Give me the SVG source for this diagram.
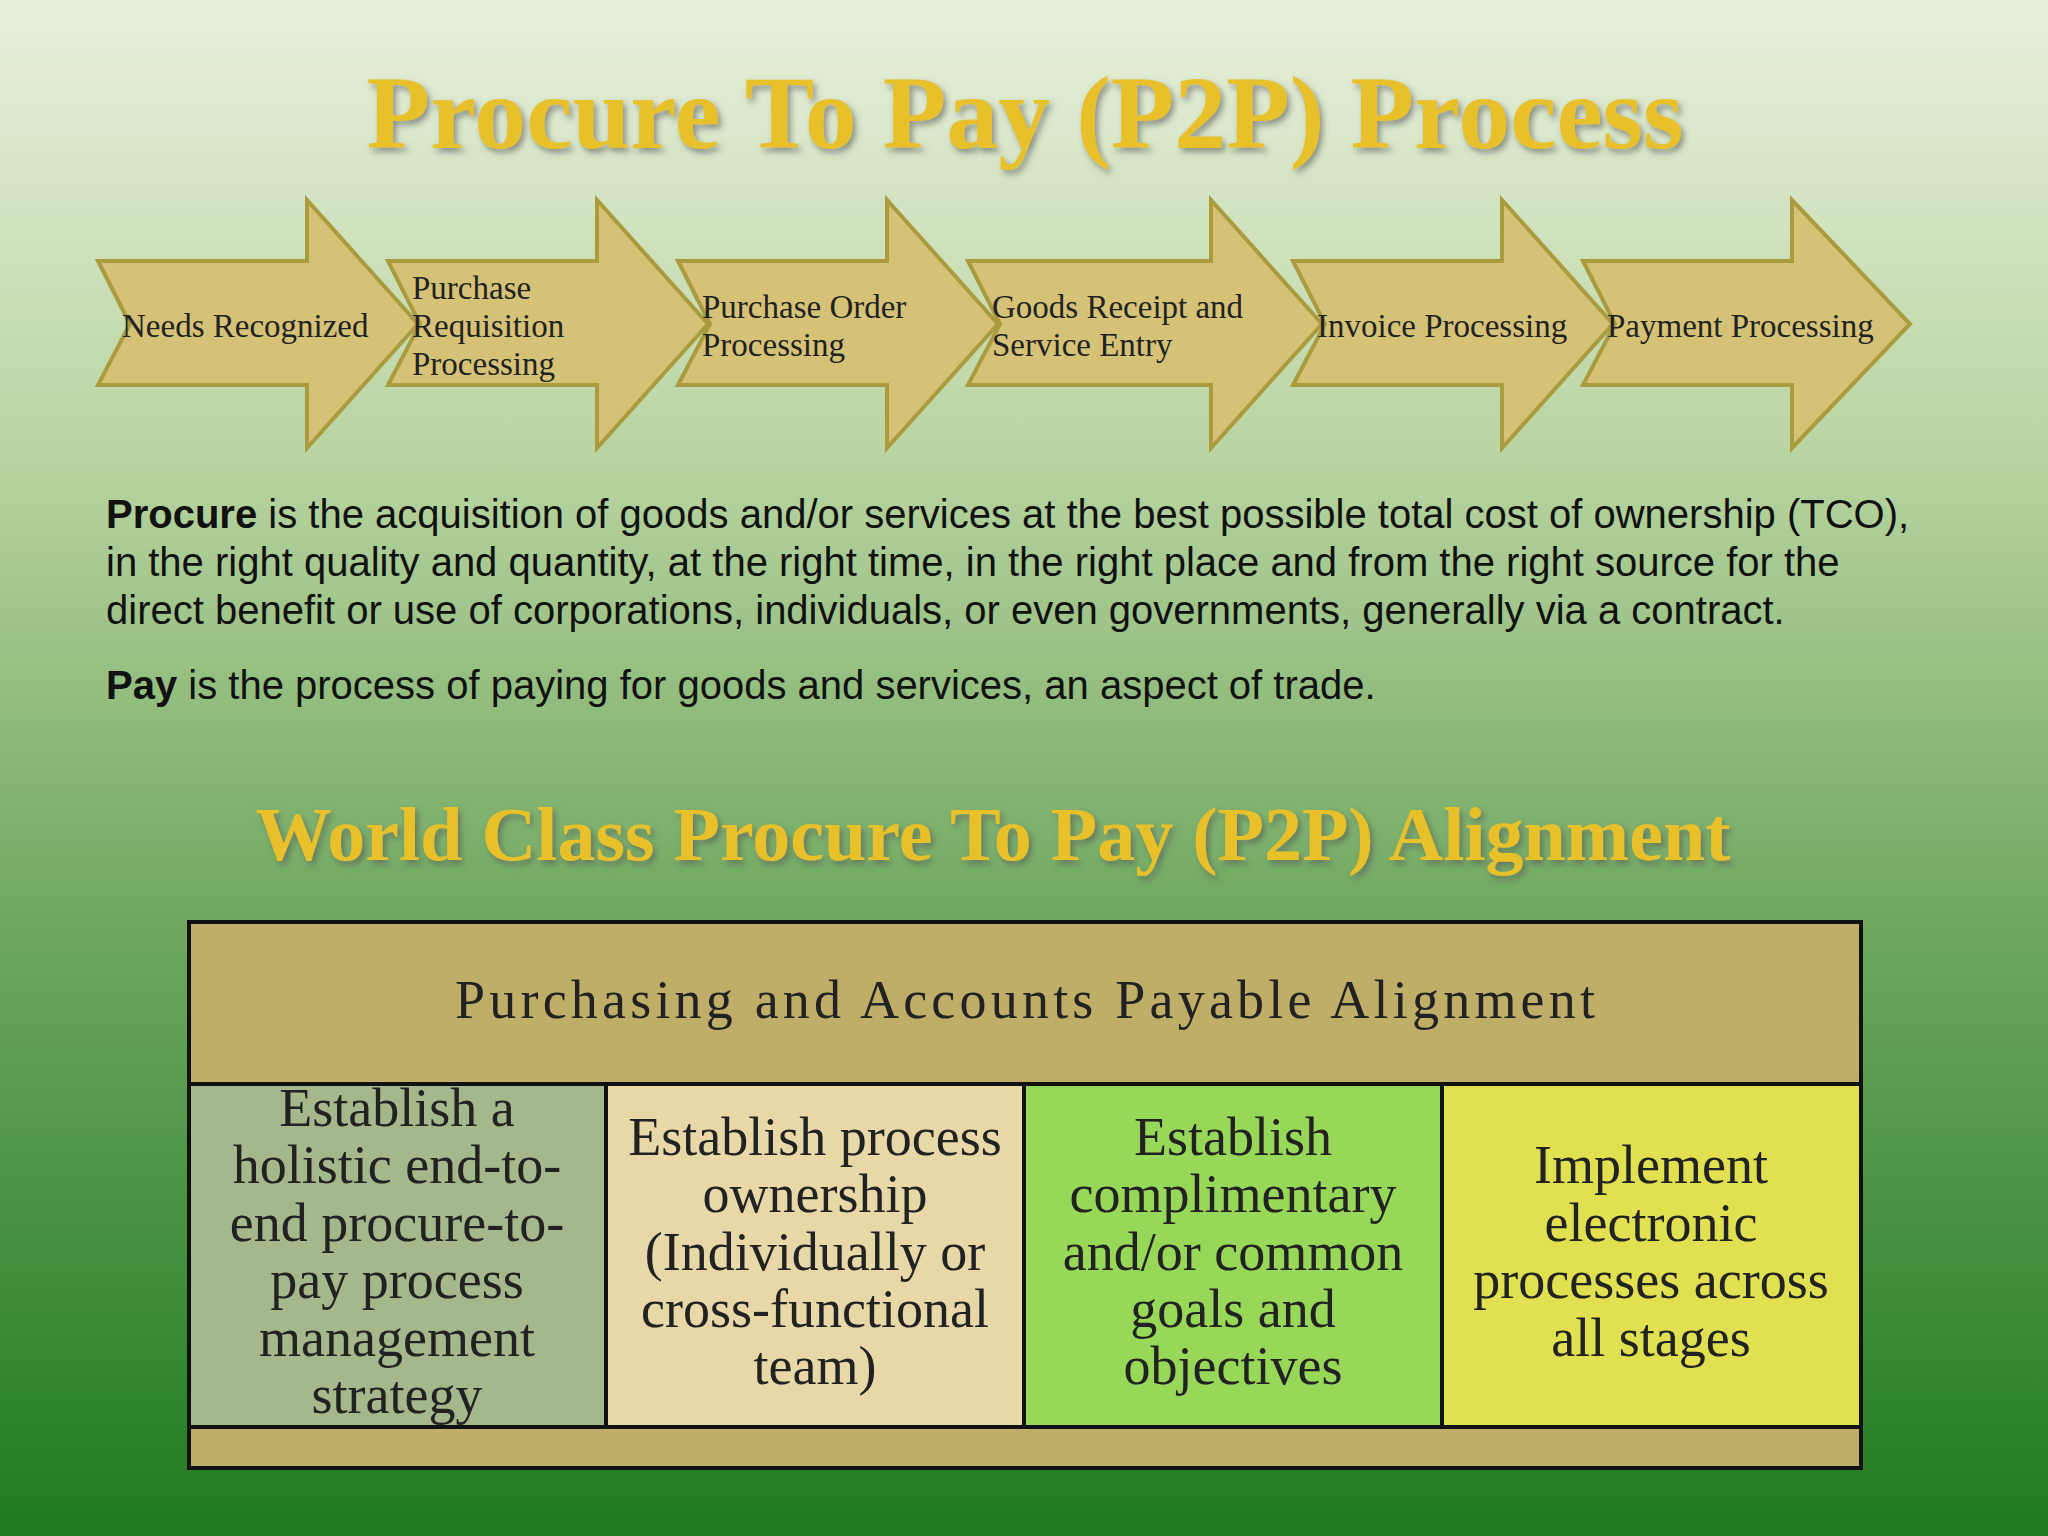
<svg xmlns="http://www.w3.org/2000/svg" width="2048" height="1536" viewBox="0 0 2048 1536">
<defs>
<linearGradient id="bg" x1="0" y1="0" x2="0" y2="1">
<stop offset="0" stop-color="#e8f0dc"/><stop offset="0.3" stop-color="#b8d4a0"/><stop offset="0.6" stop-color="#6fa860"/><stop offset="1" stop-color="#1f7a20"/>
</linearGradient>
<filter id="sh"><feDropShadow dx="3" dy="4" stdDeviation="3" flood-color="#555" flood-opacity="0.6"/></filter>
</defs>
<style>
.arr{fill:#d6c276;stroke:#a99b3e;stroke-width:4}
.at{font-family:"Liberation Serif",serif;font-size:33px;fill:#222}
.tt{font-family:"Liberation Serif",serif;font-weight:bold;fill:#e8c02c;filter:url(#sh);text-anchor:middle}
.p{font-family:"Liberation Sans",Arial,sans-serif;font-size:40px;fill:#111}
.ct{font-family:"Liberation Serif",serif;font-size:54px;fill:#222;text-anchor:middle}
.cell{stroke:#111;stroke-width:4}
</style>
<rect width="2048" height="1536" fill="url(#bg)"/>
<text class="tt" x="1025" y="148" font-size="104">Procure To Pay (P2P) Process</text>
<g id="a1"><path class="arr" d="M98,261 H307 V200 L418,324 L307,448 V385 H98 L130,324 Z"/><text class="at" x="122" y="337">Needs Recognized</text></g>
<g id="a2"><path class="arr" d="M388,261 H597 V200 L708,324 L597,448 V385 H388 L420,324 Z"/><text class="at"><tspan x="412" y="299">Purchase</tspan><tspan x="412" y="337">Requisition</tspan><tspan x="412" y="375">Processing</tspan></text></g>
<g id="a3"><path class="arr" d="M678,261 H887 V200 L998,324 L887,448 V385 H678 L710,324 Z"/><text class="at"><tspan x="702" y="318">Purchase Order</tspan><tspan x="702" y="356">Processing</tspan></text></g>
<g id="a4"><path class="arr" d="M968,261 H1211 V200 L1322,324 L1211,448 V385 H968 L1000,324 Z"/><text class="at"><tspan x="992" y="318">Goods Receipt and</tspan><tspan x="992" y="356">Service Entry</tspan></text></g>
<g id="a5"><path class="arr" d="M1293,261 H1502 V200 L1613,324 L1502,448 V385 H1293 L1325,324 Z"/><text class="at" x="1317" y="337">Invoice Processing</text></g>
<g id="a6"><path class="arr" d="M1583,261 H1792 V200 L1910,324 L1792,448 V385 H1583 L1615,324 Z"/><text class="at" x="1607" y="337">Payment Processing</text></g>
<text class="p" x="106" y="528"><tspan font-weight="bold">Procure</tspan> is the acquisition of goods and/or services at the best possible total cost of ownership (TCO),</text>
<text class="p" x="106" y="576">in the right quality and quantity, at the right time, in the right place and from the right source for the</text>
<text class="p" x="106" y="624">direct benefit or use of corporations, individuals, or even governments, generally via a contract.</text>
<text class="p" x="106" y="699"><tspan font-weight="bold">Pay</tspan> is the process of paying for goods and services, an aspect of trade.</text>
<text class="tt" x="993" y="860" font-size="76">World Class Procure To Pay (P2P) Alignment</text>
<g id="table">
<rect class="cell" x="189" y="922" width="1672" height="546" fill="#bfae68"/>
<text class="ct" x="1025" y="1018" font-size="60" textLength="1140" lengthAdjust="spacing">Purchasing and Accounts Payable Alignment</text>
<rect class="cell" x="189" y="1084" width="417" height="343" fill="#a4b88c"/>
<rect class="cell" x="606" y="1084" width="418" height="343" fill="#e8d8a8"/>
<rect class="cell" x="1024" y="1084" width="418" height="343" fill="#98d858"/>
<rect class="cell" x="1442" y="1084" width="419" height="343" fill="#e0e050"/>
<text class="ct"><tspan x="397" y="1126">Establish a</tspan><tspan x="397" y="1183">holistic end-to-</tspan><tspan x="397" y="1241">end procure-to-</tspan><tspan x="397" y="1298">pay process</tspan><tspan x="397" y="1356">management</tspan><tspan x="397" y="1413">strategy</tspan></text>
<text class="ct"><tspan x="815" y="1155">Establish process</tspan><tspan x="815" y="1212">ownership</tspan><tspan x="815" y="1270">(Individually or</tspan><tspan x="815" y="1327">cross-functional</tspan><tspan x="815" y="1384">team)</tspan></text>
<text class="ct"><tspan x="1233" y="1155">Establish</tspan><tspan x="1233" y="1212">complimentary</tspan><tspan x="1233" y="1270">and/or common</tspan><tspan x="1233" y="1327">goals and</tspan><tspan x="1233" y="1384">objectives</tspan></text>
<text class="ct"><tspan x="1651" y="1183">Implement</tspan><tspan x="1651" y="1241">electronic</tspan><tspan x="1651" y="1298">processes across</tspan><tspan x="1651" y="1356">all stages</tspan></text>
</g>
</svg>
